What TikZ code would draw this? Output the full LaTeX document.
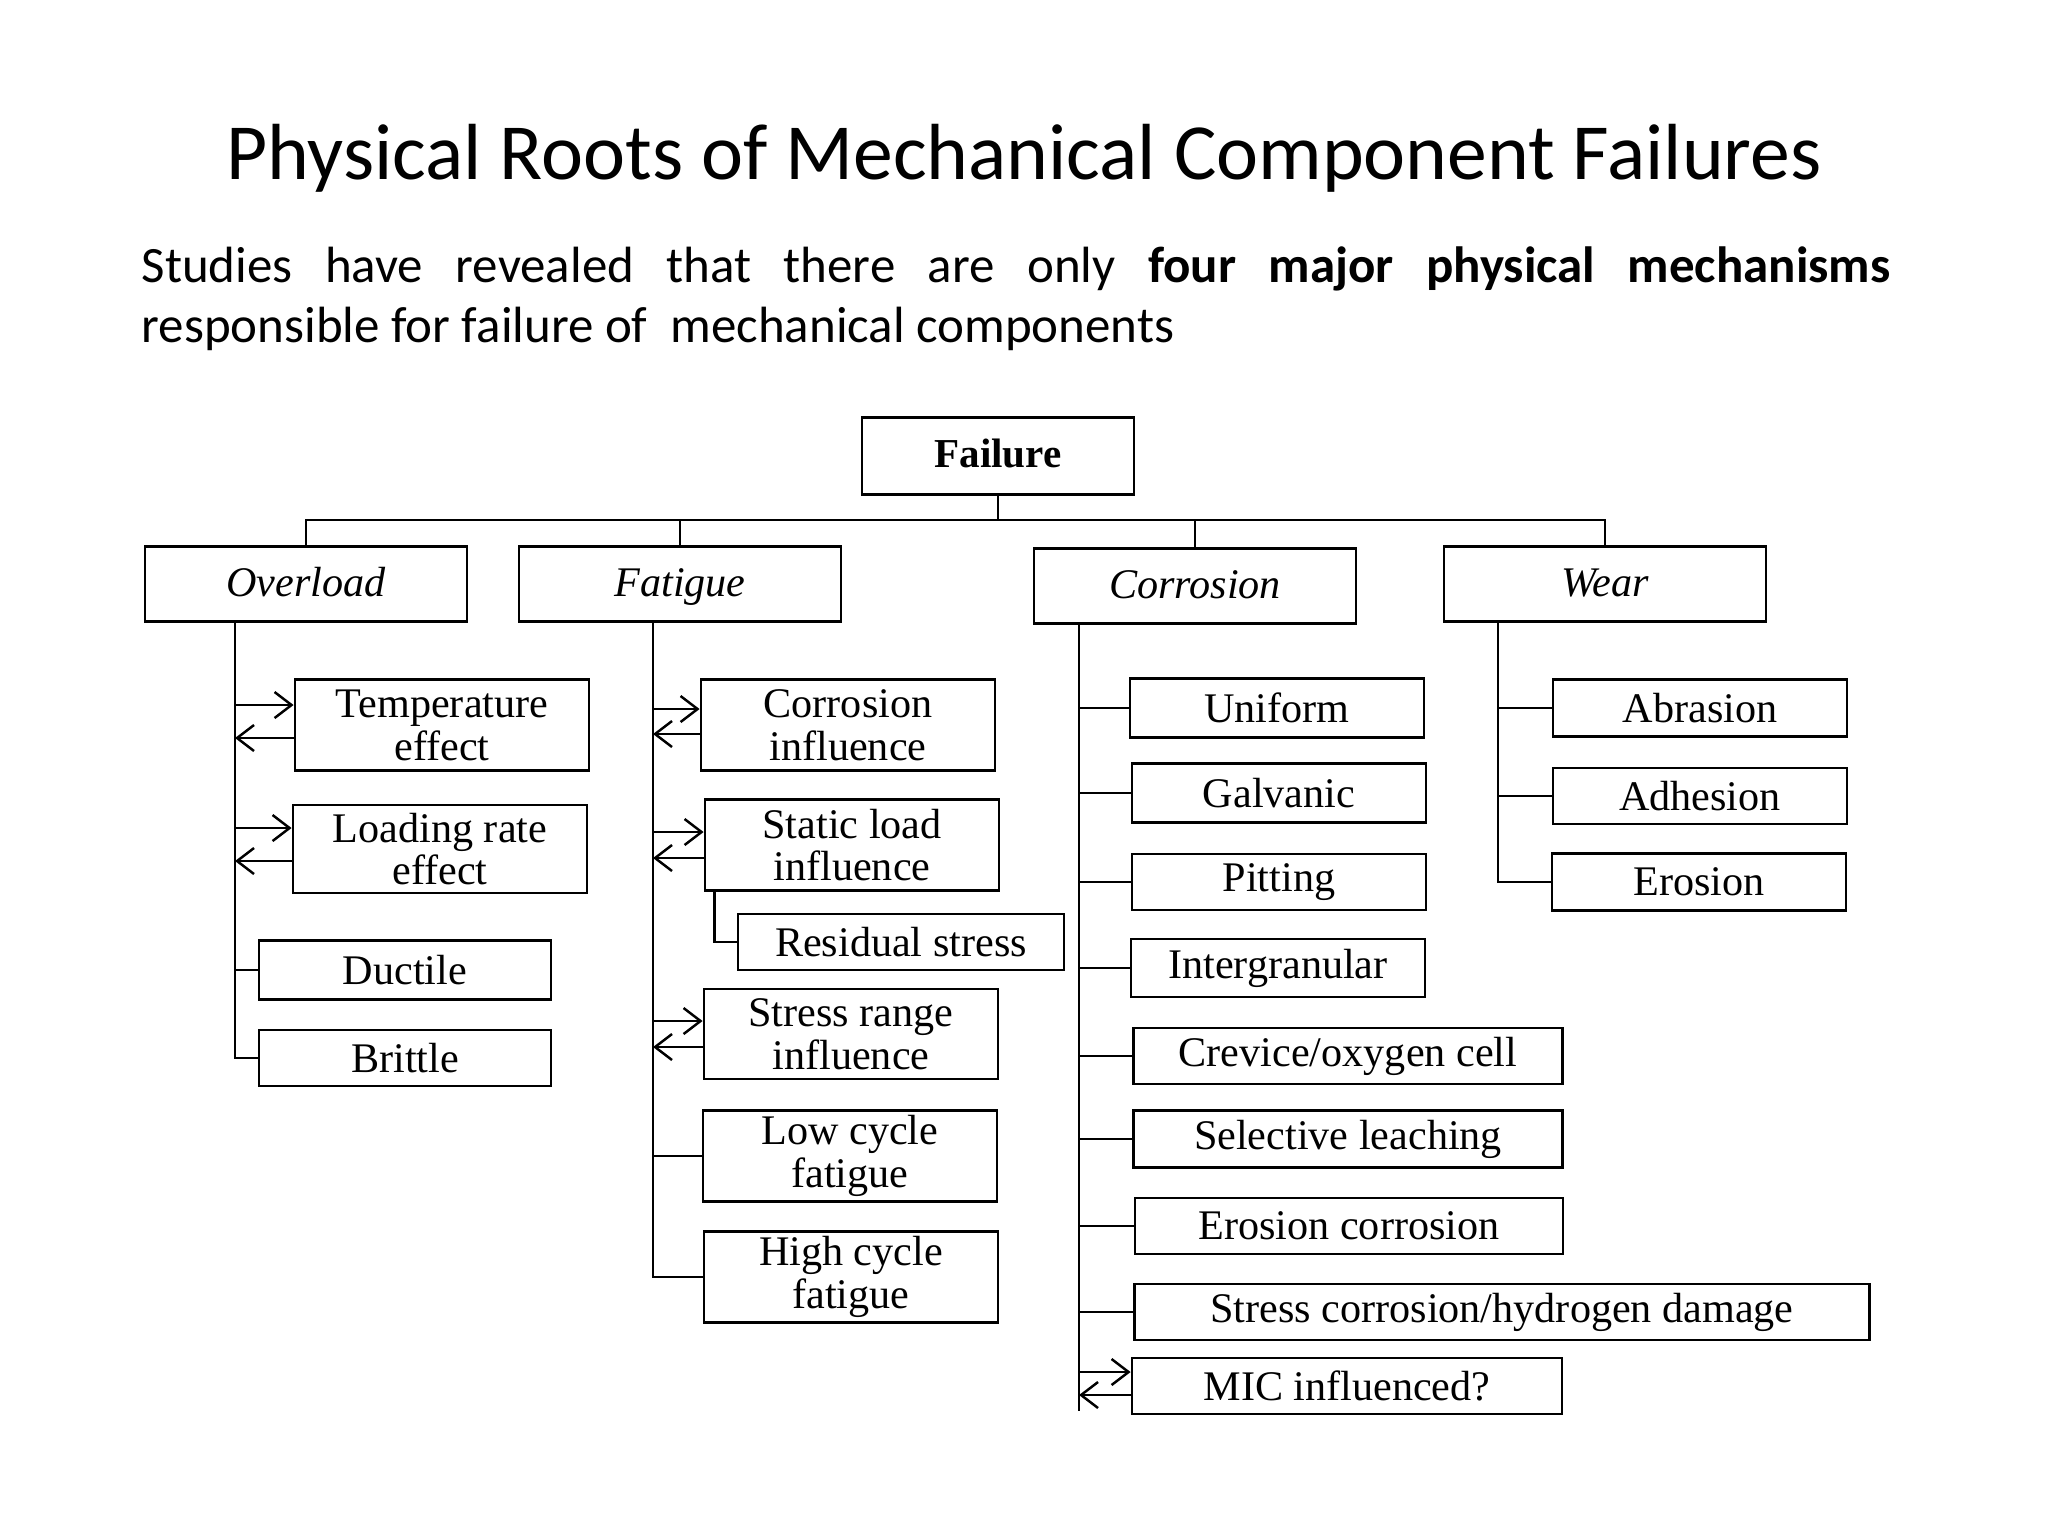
\documentclass[tikz,border=0pt]{standalone}
\usepackage{fontspec}
\setmainfont{Carlito}
\newfontfamily\chartfont{Liberation Serif}
\usetikzlibrary{arrows.meta}

\begin{document}
\begin{tikzpicture}[x=0.1mm, y=-0.1mm, >={Straight Barb[length=1.7mm,width=2.6mm]},
  leaf/.style={draw, line width=0.8pt, inner sep=0pt, align=center, minimum width=29.4mm, minimum height=5.7mm,
    font=\chartfont\fontsize{12}{12.2}\selectfont},
  leaftwo/.style={leaf, minimum height=9.1mm},
  mechanism/.style={leaf, minimum width=32.2mm, minimum height=7.5mm, text height=0.82em, text depth=0.12em,
    font=\chartfont\itshape\fontsize{12}{14}\selectfont},
  link/.style={line width=0.7pt}]

\useasboundingbox[fill=white] (0,0) rectangle (2048,1536);

\node (title) at (1024,179) [anchor=base, font=\fontsize{22.65}{27}\selectfont] {Physical Roots of Mechanical Component Failures};
\node (intro) at (141,282) [anchor=base west, inner sep=0pt, text width=174.9mm, align=justify, font=\fontsize{14.5}{17.1}\selectfont]
  {Studies have revealed that there are only \textbf{four major physical mechanisms}\linebreak responsible for failure of\ \ mechanical components};

\node (failure) at (998,456) [leaf, minimum width=27.2mm, minimum height=7.7mm, text height=0.9em, text depth=0.25em,
  font=\chartfont\bfseries\fontsize{11.7}{14}\selectfont] {Failure};

\node (mech1) at (306,584)  [mechanism] {Overload};
\node (mech2) at (680,584)  [mechanism] {Fatigue};
\node (mech3) at (1195,586) [mechanism] {Corrosion};
\node (mech4) at (1605,584) [mechanism] {Wear};

\node (overload1) at (442,725)  [leaftwo] {Temperature\\effect};
\node (overload2) at (440,849)  [leaftwo, minimum height=8.8mm] {Loading rate\\effect};
\node (overload3) at (405,970)  [leaf, minimum width=29.2mm, minimum height=5.9mm] {Ductile};
\node (overload4) at (405,1058) [leaf, minimum width=29.2mm, minimum height=5.6mm] {Brittle};

\node (fatigue1) at (848,725)  [leaftwo] {Corrosion\\influence};
\node (fatigue2) at (852,845)  [leaftwo] {Static load\\influence};
\node (fatigue3) at (901,942)  [leaf, minimum width=32.6mm, minimum height=5.6mm] {Residual stress};
\node (fatigue4) at (851,1034) [leaftwo, minimum height=9mm] {Stress range\\influence};
\node (fatigue5) at (850,1156) [leaftwo] {Low cycle\\fatigue};
\node (fatigue6) at (851,1277) [leaftwo] {High cycle\\fatigue};

\node (corrosion1) at (1277,708)  [leaf, minimum height=5.9mm] {Uniform};
\node (corrosion2) at (1279,793)  [leaf, minimum height=5.9mm] {Galvanic};
\node (corrosion3) at (1279,882)  [leaf, minimum height=5.6mm] {Pitting};
\node (corrosion4) at (1278,968)  [leaf, minimum height=5.8mm] {Intergranular};
\node (corrosion5) at (1348,1056) [leaf, minimum width=42.9mm, minimum height=5.6mm] {Crevice/oxygen cell};
\node (corrosion6) at (1348,1139) [leaf, minimum width=42.9mm] {Selective leaching};
\node (corrosion7) at (1349,1226) [leaf, minimum width=42.8mm, minimum height=5.6mm] {Erosion corrosion};
\node (corrosion8) at (1502,1312) [leaf, minimum width=73.5mm, minimum height=5.6mm] {Stress corrosion/hydrogen damage};
\node (corrosion9) at (1347,1386) [leaf, minimum width=43mm, minimum height=5.6mm] {MIC influenced?};

\node (wear1) at (1700,708) [leaf] {Abrasion};
\node (wear2) at (1700,796) [leaf, minimum height=5.6mm] {Adhesion};
\node (wear3) at (1699,882) [leaf] {Erosion};

% trunks of the four branches
\coordinate (bus)    at (0,520);
\coordinate (trunk1) at (235,0);
\coordinate (trunk2) at (653,0);
\coordinate (trunk3) at (1079,1411);
\coordinate (trunk4) at (1498,0);

\draw[link] (failure.south) -- (failure.south |- bus);
\draw[link] (mech1.north) -- (mech1.north |- bus) -- (mech4.north |- bus) -- (mech4.north);
\draw[link] (mech2.north) -- (mech2.north |- bus);
\draw[link] (mech3.north) -- (mech3.north |- bus);

% overload
\draw[link] (mech1.south -| trunk1) |- (overload4.west);
\draw[link, ->] ([yshift=2mm]overload1.west -| trunk1)   -- ([yshift=2mm]overload1.west);
\draw[link, ->] ([yshift=-1.3mm]overload1.west)          -- ([yshift=-1.3mm]overload1.west -| trunk1);
\draw[link, ->] ([yshift=2.1mm]overload2.west -| trunk1) -- ([yshift=2.1mm]overload2.west);
\draw[link, ->] ([yshift=-1.2mm]overload2.west)          -- ([yshift=-1.2mm]overload2.west -| trunk1);
\draw[link] (trunk1 |- overload3.west) -- (overload3.west);

% fatigue
\draw[link] (mech2.south -| trunk2) |- (fatigue6.west);
\draw[link, ->] ([yshift=1.6mm]fatigue1.west -| trunk2)  -- ([yshift=1.6mm]fatigue1.west);
\draw[link, ->] ([yshift=-0.9mm]fatigue1.west)           -- ([yshift=-0.9mm]fatigue1.west -| trunk2);
\draw[link, ->] ([yshift=1.3mm]fatigue2.west -| trunk2)  -- ([yshift=1.3mm]fatigue2.west);
\draw[link, ->] ([yshift=-1.3mm]fatigue2.west)           -- ([yshift=-1.3mm]fatigue2.west -| trunk2);
\draw[link] ([xshift=1.1mm]fatigue2.south west) |- (fatigue3.west);
\draw[link, ->] ([yshift=1.3mm]fatigue4.west -| trunk2)  -- ([yshift=1.3mm]fatigue4.west);
\draw[link, ->] ([yshift=-1.3mm]fatigue4.west)           -- ([yshift=-1.3mm]fatigue4.west -| trunk2);
\draw[link] (trunk2 |- fatigue5.west) -- (fatigue5.west);

% corrosion
\draw[link] (mech3.south -| trunk3) -- (trunk3);
\foreach \i in {1,...,8}
  \draw[link] (trunk3 |- corrosion\i.west) -- (corrosion\i.west);
\draw[link, ->] ([yshift=1.4mm]corrosion9.west -| trunk3)  -- ([yshift=1.4mm]corrosion9.west);
\draw[link, ->] ([yshift=-0.9mm]corrosion9.west)           -- ([yshift=-0.9mm]corrosion9.west -| trunk3);

% wear
\draw[link] (mech4.south -| trunk4) |- (wear3.west);
\draw[link] (trunk4 |- wear1.west) -- (wear1.west);
\draw[link] (trunk4 |- wear2.west) -- (wear2.west);

\end{tikzpicture}
\end{document}
